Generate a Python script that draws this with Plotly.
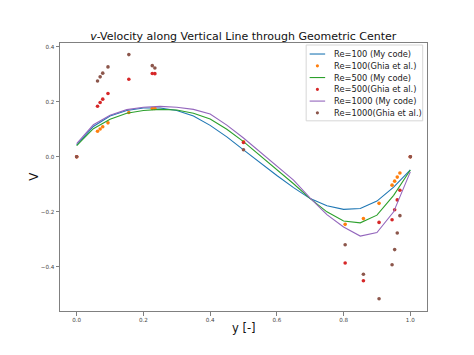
import plotly.graph_objects as go

# ---------------- data ----------------
y_code = [0.0, 0.05, 0.1, 0.15, 0.2, 0.25, 0.3, 0.35, 0.4, 0.45, 0.5,
          0.55, 0.6, 0.65, 0.7, 0.75, 0.8, 0.85, 0.9, 0.95, 1.0]
v_re100_code = [0.042, 0.110, 0.148, 0.168, 0.177, 0.177, 0.168, 0.148, 0.114, 0.072, 0.025,
                -0.022, -0.068, -0.112, -0.152, -0.178, -0.191, -0.188, -0.161, -0.110, -0.048]
v_re500_code = [0.040, 0.102, 0.136, 0.158, 0.168, 0.172, 0.170, 0.158, 0.137, 0.100, 0.055,
                0.005, -0.045, -0.098, -0.152, -0.200, -0.233, -0.240, -0.212, -0.140, -0.048]
v_re1000_code = [0.048, 0.116, 0.151, 0.171, 0.180, 0.183, 0.180, 0.172, 0.155, 0.115, 0.068,
                 0.018, -0.035, -0.085, -0.150, -0.210, -0.255, -0.288, -0.275, -0.200, -0.055]

y_ghia = [1.0000, 0.9688, 0.9609, 0.9531, 0.9453, 0.9063, 0.8594, 0.8047, 0.5000,
          0.2344, 0.2266, 0.1563, 0.0938, 0.0781, 0.0703, 0.0625, 0.0000]
v_re100_ghia = [0.00000, -0.05906, -0.07391, -0.08864, -0.10313, -0.16914, -0.22445, -0.24533, 0.05454,
                0.17527, 0.17507, 0.16077, 0.12317, 0.10890, 0.10091, 0.09233, 0.00000]
v_re500_ghia = [0.00000, -0.12146, -0.15663, -0.19254, -0.22847, -0.23827, -0.44993, -0.38598, 0.05188,
                0.30174, 0.30203, 0.28124, 0.22965, 0.20920, 0.19713, 0.18360, 0.00000]
v_re1000_ghia = [0.00000, -0.21388, -0.27669, -0.33714, -0.39188, -0.51550, -0.42665, -0.31966, 0.02526,
                 0.32235, 0.33075, 0.37095, 0.32627, 0.30353, 0.29012, 0.27485, 0.00000]

series_names = ["Re=100 (My code)", "Re=100(Ghia et al.)", "Re=500 (My code)",
                "Re=500(Ghia et al.)", "Re=1000 (My code)", "Re=1000(Ghia et al.)"]
series_colors = ["#1f77b4", "#ff7f0e", "#2ca02c", "#d62728", "#9467bd", "#8c564b"]
series_kind = ["line", "dot", "line", "dot", "line", "dot"]
series_x = [y_code, y_ghia, y_code, y_ghia, y_code, y_ghia]
series_y = [v_re100_code, v_re100_ghia, v_re500_code, v_re500_ghia, v_re1000_code, v_re1000_ghia]

x_ticks = [0.0, 0.2, 0.4, 0.6, 0.8, 1.0]
y_ticks = [-0.4, -0.2, 0.0, 0.2, 0.4]

# ---------------- layout geometry (pixels, page coordinates) ----------------
PAGE_W, PAGE_H = 474, 355
OFF = 8  # default body margin of the html page
W, H = PAGE_W - OFF, PAGE_H - OFF
L, R, T, B = 59.5 - OFF, 427.0 - OFF, 43.0 - OFF, 310.6 - OFF
FONT = "DejaVu Sans"

def px2paper_x(px):
    return (px - OFF - L) / (R - L)

def px2paper_y(py):
    return (B - (py - OFF)) / (B - T)

fig = go.Figure()
for name, color, kind, xs, ys in zip(series_names, series_colors, series_kind, series_x, series_y):
    if kind == "line":
        fig.add_trace(go.Scatter(x=xs, y=ys, mode="lines", name=name,
                                 line=dict(color=color, width=1.1), showlegend=False))
    else:
        fig.add_trace(go.Scatter(x=xs, y=ys, mode="markers", name=name,
                                 marker=dict(color=color, size=3.6, line=dict(width=0)),
                                 showlegend=False))

axis_common = dict(showgrid=False, zeroline=False, showline=True, mirror=True,
                   linecolor="#808080", linewidth=1, ticks="outside", ticklen=3.5,
                   tickwidth=0.8, tickcolor="#808080",
                   tickfont=dict(family=FONT, size=5.6, color="#444444"))

fig.update_xaxes(range=[-0.05, 1.05], tickvals=x_ticks, tickformat=".1f", **axis_common)
fig.update_yaxes(range=[-0.56, 0.413], tickvals=y_ticks, tickformat=".1f", **axis_common)

# ---------------- custom compact legend ----------------
shapes = []
annotations = []
lg_x0, lg_x1, lg_y0, lg_y1 = 306.0, 422.7, 45.0, 120.7
shapes.append(dict(type="rect", xref="paper", yref="paper",
                   x0=px2paper_x(lg_x0), x1=px2paper_x(lg_x1),
                   y0=px2paper_y(lg_y1), y1=px2paper_y(lg_y0),
                   line=dict(color="#d6d6d6", width=1), fillcolor="rgba(255,255,255,0.8)",
                   layer="above"))
row0, row_step = 54.0, 11.75
sw0, sw1, txt_x = 309.5, 325.0, 331.5
for i, (name, color, kind) in enumerate(zip(series_names, series_colors, series_kind)):
    py = row0 + i * row_step
    if kind == "line":
        shapes.append(dict(type="line", xref="paper", yref="paper",
                           x0=px2paper_x(sw0), x1=px2paper_x(sw1),
                           y0=px2paper_y(py), y1=px2paper_y(py),
                           line=dict(color=color, width=1.1), layer="above"))
    else:
        cx = (sw0 + sw1) / 2
        r = 1.6
        shapes.append(dict(type="circle", xref="paper", yref="paper",
                           x0=px2paper_x(cx - r), x1=px2paper_x(cx + r),
                           y0=px2paper_y(py + r), y1=px2paper_y(py - r),
                           line=dict(width=0), fillcolor=color, layer="above"))
    annotations.append(dict(text=name, xref="paper", yref="paper",
                            x=px2paper_x(txt_x), y=px2paper_y(py),
                            xanchor="left", yanchor="middle", showarrow=False,
                            font=dict(family=FONT, size=8.3, color="#222222")))

# axis labels
annotations.append(dict(text="y [-]", xref="paper", yref="paper",
                        x=0.5, y=px2paper_y(327.5), xanchor="center", yanchor="middle",
                        showarrow=False, font=dict(family=FONT, size=11.5, color="#111111")))
annotations.append(dict(text="V", xref="paper", yref="paper",
                        x=px2paper_x(33.5), y=px2paper_y(176.5), xanchor="center", yanchor="middle",
                        textangle=-90, showarrow=False,
                        font=dict(family=FONT, size=12, color="#111111")))

fig.update_layout(
    width=W, height=H,
    margin=dict(l=L, r=W - R, t=T, b=H - B, pad=0),
    paper_bgcolor="white", plot_bgcolor="white",
    title=dict(text="<i>v</i>-Velocity along Vertical Line through Geometric Center",
               x=(L + R) / 2 / W, xanchor="center",
               y=1 - (36.5 - OFF) / H, yanchor="middle", yref="container",
               font=dict(family=FONT, size=11, color="#111111")),
    showlegend=False,
    shapes=shapes,
    annotations=annotations,
)

fig.write_html("out.html")
